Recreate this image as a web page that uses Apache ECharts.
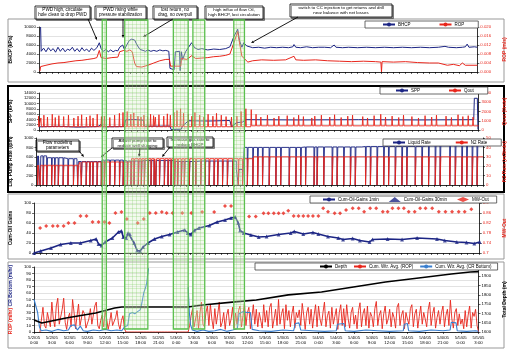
<!DOCTYPE html>
<html>
<head>
<meta charset="utf-8">
<script src="https://cdn.jsdelivr.net/npm/echarts@6/dist/echarts.min.js"></script>
<style>
html,body{margin:0;padding:0;background:#fff}
#main{width:515px;height:354px}
</style>
</head>
<body>
<div id="main"></div>
<script>
/* time axis: hours from 5/2/05 0:00, a label every 3 h */
var timeLabels = [
  '5/2/05\n0:00','5/2/05\n3:00','5/2/05\n6:00','5/2/05\n9:00','5/2/05\n12:00','5/2/05\n15:00','5/2/05\n18:00','5/2/05\n21:00',
  '5/3/05\n0:00','5/3/05\n3:00','5/3/05\n6:00','5/3/05\n9:00','5/3/05\n12:00','5/3/05\n15:00','5/3/05\n18:00','5/3/05\n21:00',
  '5/4/05\n0:00','5/4/05\n3:00','5/4/05\n6:00','5/4/05\n9:00','5/4/05\n12:00','5/4/05\n15:00','5/4/05\n18:00','5/4/05\n21:00',
  '5/5/05\n0:00','5/5/05\n3:00'
];
// green event windows [from, to] in hours
var bands = [[11.5,12.2],[15.3,19.2],[23.5,26.0],[26.8,28.8],[33.7,35.5]];

/* panel 1: BHCP (kPa) and ROP (m/s) */
var bhcp = [[2.1,10000],[2.2,4600],[2.6,5300],[3.0,4500],[3.4,5400],[3.8,4700],[4.2,5200],[4.6,4400],[5.0,5500],[5.4,4600],[5.8,5300],[6.2,4500],[6.6,5100],[7.0,4800],[7.4,5500],[7.8,4600],[8.2,5200],[8.6,4500],[9.0,5400],[9.4,4700],[9.8,5100],[10.2,4500],[10.6,5300],[11.0,4800],[11.5,5400],[11.9,6500],[12.2,5200],[12.6,4600],[13.0,5000],[13.4,4500],[13.8,4900],[14.2,4500],[14.6,4800],[15.0,4700],[15.3,5500],[15.8,6000],[16.1,5000],[16.4,5800],[16.9,7000],[17.3,7300],[17.8,7100],[18.2,6000],[18.7,5000],[19.2,4800],[19.6,4600],[20.0,4900],[20.5,4600],[21.0,4800],[21.5,4600],[22.0,4900],[22.5,4700],[23.0,4800],[23.5,4600],[23.7,800],[24.4,500],[24.6,4500],[25.3,4600],[25.4,300],[25.6,4500],[25.8,2800],[26.3,4500],[26.8,5500],[27.3,6500],[27.8,5400],[28.4,5000],[29.0,5200],[30.0,4900],[31.0,5100],[32.0,5000],[33.0,5200],[33.7,5600],[34.4,8000],[35.0,9500],[35.3,7000],[35.7,5500],[36.0,6500],[36.5,5800],[37.5,5400],[38.5,5500],[39.5,5300],[40.5,5500],[41.5,5400],[42.5,5500],[43.5,5400],[44.2,5600],[44.4,6100],[44.7,5500],[45.5,5400],[46.5,5600],[47.5,5400],[48.5,5500],[49.5,5500],[50.5,5400],[51.1,6000],[51.4,5500],[52.5,5400],[53.5,5500],[55.0,5400],[56.5,5500],[58.0,5400],[59.5,5500],[61.0,5400],[62.5,5500],[64.0,5400],[65.5,5500],[67.0,5400],[68.5,5500],[69.6,5700],[69.9,6100],[70.2,5500],[71.5,5400],[72.5,5500],[73.0,5600],[73.3,6200],[73.6,5500],[74.5,5600],[75.0,5500]];
var rop1 = [[2.0,0.0004],[2.1,0.0024],[3.0,0.003],[4.0,0.0036],[5.0,0.004],[6.0,0.0042],[7.0,0.0046],[8.0,0.005],[9.0,0.0052],[10.0,0.0056],[11.0,0.006],[11.5,0.0064],[11.9,0.0096],[12.2,0.0064],[13.0,0.006],[14.0,0.0064],[15.0,0.0066],[15.3,0.009],[16.0,0.0096],[16.5,0.0092],[17.0,0.0098],[17.4,0.009],[17.8,0.004],[18.1,0.0024],[19.0,0.0022],[20.0,0.003],[21.0,0.004],[22.0,0.005],[23.0,0.0056],[23.6,0.0056],[23.8,0.0026],[25.5,0.0026],[25.6,0.006],[26.5,0.0056],[27.3,0.0072],[28.0,0.006],[29.0,0.0062],[30.0,0.0064],[31.0,0.0068],[32.0,0.007],[33.0,0.0074],[33.7,0.008],[34.5,0.014],[35.0,0.018],[35.3,0.013],[35.7,0.007],[36.7,0.0044],[37.5,0.005],[39,0.0054],[41,0.0052],[43,0.0054],[44.4,0.007],[44.7,0.0054],[46,0.0052],[48,0.0054],[50,0.005],[52,0.0048],[54,0.0046],[56,0.0048],[58,0.0046],[58.9,0.0044],[59.0,0.0],[59.1,0.0046],[61,0.0044],[63,0.0046],[65,0.0042],[67,0.004],[68.5,0.004],[70,0.003],[71,0.0034],[72,0.0028],[72.5,0.004],[73,0.003],[75,0.003]];

/* pipe connections (hours): pumps stop, returns surge */
var connT = [1.5,1.9,2.4,3.0,3.8,4.3,4.9,5.7,6.5,7.4,8.1,8.7,9.5,10.1,10.6,11.3,12.0,12.5,13.4,14.2,15.0,15.6,16.3,16.9,17.4,18.1,18.6,19.1,19.7,20.2,20.7,21.0,21.6,22.4,23.0,23.5,24.1,24.6,25.2,25.7,26.5,27.1,27.6,28.4,29.1,29.8,30.6,31.2,32.0,32.8,33.7,34.6,35.3,36.1,37.0,37.8,38.6,39.7,40.8,41.6,43.0,44.1,44.9,45.7,47.1,47.6,48.7,50.1,50.9,52.0,53.1,53.9,55.6,56.4,57.5,58.6,59.4,60.5,61.6,62.4,63.8,64.9,66.0,67.1,67.9,69.5,70.4,71.5,72.3,73.2,74.0];

/* panel 2: SPP (kPa) and Qout (l/min) */
var spp = [[1.6,1200],[5,1400],[8,1100],[11.5,1300],[12,2000],[12.3,1200],[15.9,1300],[16.1,3800],[17.5,4000],[19.1,3700],[19.3,1400],[23.5,1500],[23.7,200],[25.4,300],[25.6,1500],[26.6,3500],[30,3400],[33.5,3600],[33.8,1200],[34.6,2800],[35.6,3000],[36.2,3900],[45,3800],[55,3900],[65,3800],[74.2,3900],[74.3,12000],[74.8,12000],[74.9,200]];
var qoutBase = [[1.5,350],[37,450],[75,450]];
var qoutPeak = [1500,1300,1600,1400,1700,1350,1550,1450,1600,1300,1500,1650,1400,1550,1300,1700,1450,1500,1350,1600,
  1800,1900,2000,1700,1850,1500,1400,1600,1450,1700,1550,1400,1650,1500,1750,1600,1900,2100,2300,1800,
  1700,1500,1900,1600,1400,1700,1500,1800,1600,1450,1400,1500,2000,2300,2200,1700,
  1400,1600,1300,1500,1550,1350,1600,1450,1300,1500,1600,1400,1650,1350,1500,1600,1450,1300,1550,1700,1400,1500,1350,1600,1450,1300,1550,1400,1600,1500,1350,1650,1450,1550,1400];

/* panel 3: liquid pump rate (lpm) and N2 rate, levels between connections */
var liqLevel = [[1.5,620],[3,580],[6,560],[8,500],[12,530],[16,510],[19,520],[24,500],[28,510],[34.3,330],[35.6,800],[45,810],[55,820],[65,830],[75,840]];
var n2Level = [[1.5,21],[8.5,24.5],[17,28],[37,30],[75,30]];

/* panel 4: cumulative oil gains and MW out */
var cumOil = [[1.0,0],[2.1,4],[3.8,10],[5.4,17],[7.1,20],[8.7,20],[10.4,25],[11.3,28],[11.7,18],[12.2,15],[12.8,22],[14.0,30],[15.0,42],[15.5,44],[15.8,32],[16.3,30],[16.6,40],[16.9,38],[17.6,20],[18.1,5],[18.6,4],[19.1,12],[19.9,20],[21.0,28],[22.2,33],[23.5,37],[24.8,42],[26.0,46],[26.5,40],[27.0,37],[27.6,45],[28.4,50],[30.1,55],[31.4,62],[32.7,66],[33.7,70],[34.4,72],[34.9,60],[35.2,45],[35.8,40],[37.0,36],[38.3,32],[39.6,33],[41.6,37],[43.6,40],[44.2,43],[45.7,38],[47.3,41],[48.2,38],[49.8,33],[51.5,30],[52.3,27],[53.9,29],[55.1,25],[56.7,22],[57.2,27],[59.7,28],[62.1,27],[64.6,30],[67.9,28],[69.2,25],[71.2,22],[72.8,21],[74.1,19],[75,22]];
var mwOut = [[2.0,0.80],[3.0,0.808],[4.1,0.808],[4.9,0.808],[5.9,0.808],[6.7,0.82],[7.7,0.82],[8.7,0.848],[9.7,0.848],[10.7,0.824],[11.7,0.824],[12.7,0.824],[13.5,0.82],[14.5,0.86],[15.5,0.864],[16.4,0.836],[18.2,0.82],[19.2,0.836],[20.2,0.86],[21.2,0.86],[22.2,0.864],[23.0,0.86],[24.0,0.86],[25.6,0.86],[27.1,0.86],[28.9,0.864],[30.9,0.864],[32.7,0.888],[33.7,0.888],[36.7,0.846],[37.8,0.846],[39.1,0.859],[39.9,0.859],[40.8,0.859],[41.6,0.859],[42.4,0.859],[43.2,0.869],[44.1,0.848],[44.9,0.848],[45.7,0.848],[46.5,0.848],[47.3,0.848],[48.2,0.848],[49.0,0.879],[49.8,0.865],[50.9,0.859],[51.8,0.859],[52.8,0.872],[53.9,0.879],[54.9,0.879],[55.8,0.865],[56.8,0.879],[57.8,0.879],[58.9,0.865],[59.7,0.865],[60.5,0.879],[61.5,0.879],[62.4,0.879],[63.2,0.865],[64.2,0.865],[65.1,0.879],[66.0,0.879],[67.1,0.879],[68.2,0.865],[69.3,0.865],[70.4,0.865],[71.5,0.865],[72.5,0.865],[73.6,0.875]];

/* panel 5: ROP every 0.25 h from 1.0 h, CR bottom, depth */
var ropStart = 1.0, ropStep = 0.25;
var rop5 = [0,20,38,10,6,30,33,8,46,20,8,40,52,12,10,35,52,15,4,22,29,8,50,30,5,25,43,10,12,33,
  28,6,3,20,36,12,15,40,46,10,5,18,26,8,33,20,4,15,30,10,8,22,33,12,4,18,25,5,
  0,0,0,0,0,0,0,0,0,0,0,0,0,0,0,0,0,0,0,0,0,0,0,0,0,0,0,0,0,0,0,0,0,0,0,0,0,0,0,0,0,0,0,
  10,25,36,8,20,33,5,30,46,12, 8,30,40,10,43,20,5,36,12,28, 46,8,15,30,4,26,35,10,20,38,
  6,29,12,33,40,8,25,45,10,30, 38,5,22,42,12,35,8,30,28,6, 42,15,33,8,38,44,6,20,35,10,
  50,12,28,36,5,42,18,33,8,28, 40,6,30,22,34,10,44,26,4,30, 38,12,35,6,26,42,8,40,20,10,
  30,46,8,25,32,6,38,12,24,36, 4,30,42,10,36,8,42,20,6,30, 38,12,26,5,33,45,8,28,36,10,
  40,6,30,24,8,36,47,10,26,33, 5,28,40,12,20,35,8,30,22,6, 38,44,10,26,33,5,30,20,12,36,
  42,8,28,35,6,24,40,12,30,20, 8,34,46,10,28,38,6,22,33,12, 30,40,8,26,35,10,49,20,6,30,
  36,10,28,12,20,5,33,8,26,40, 6,30,24,35,10,0];
var crBottom = [[0,50],[0.3,48],[0.6,30],[0.9,8],[1.2,2],[2,3],[3,1],[4,4],[5,2],[5.8,3],[6.2,10],[6.8,11],[7.3,3],[7.8,9],[8.3,2],[9,1],[10,3],[11,2],[12,4],[13,2],[14,3],[14.8,2],[15.3,8],[15.8,10],[16.1,28],[16.6,30],[17.0,28],[17.4,31],[17.9,34],[18.2,45],[18.5,60],[18.8,68],[19.0,75],[19.3,98],[19.4,null],[26.0,69],[26.2,30],[26.4,11],[26.7,3],[27.5,1],[28.5,3],[29.5,1],[30.5,2],[31.5,4],[32.5,1],[33.5,3],[34.3,5],[34.6,28],[35.2,31],[36.0,30],[36.5,30],[36.8,4],[38,2],[40,1],[42,3],[43.8,2],[44.1,13],[44.7,14],[45,3],[47,2],[49,1],[51,2],[51.2,12],[52.3,13],[52.5,2],[54,1],[56,3],[58,2],[60,1],[62.3,2],[62.5,12],[63,13],[63.2,2],[65,1],[67,3],[69,2],[70.2,3],[70.4,15],[71.2,14],[71.4,2],[73,1],[74.5,2],[75,1]];
var depth = [[0,1665],[1.3,1648],[5.4,1675],[10.4,1702],[13.6,1729],[14.8,1735],[26,1735],[28.4,1745],[33.9,1762],[37.5,1772],[42.9,1800],[48.5,1815],[53.9,1842],[59.3,1869],[64.9,1891],[70.4,1912],[73.6,1923],[75,1925]];

var FONT = 'Liberation Sans';
var RED = '#e8261c', NAVY = '#1c2584', BLUE2 = '#3a7fcf';

function levelAt(levels, t) {
  var v = levels[0][1];
  for (var i = 0; i < levels.length; i++) { if (levels[i][0] <= t) v = levels[i][1]; }
  return v;
}
// level line, with a short excursion at every connection
function connSeries(levels, spike) {
  var marks = [];
  levels.forEach(function(p){ marks.push({t: p[0], lv: true}); });
  connT.forEach(function(t, i){ marks.push({t: t, i: i}); });
  marks.sort(function(a, b){ return a.t - b.t; });
  var out = [], prev = null;
  marks.forEach(function(m){
    var v = levelAt(levels, m.t);
    if (m.lv) {
      if (prev !== null) out.push([m.t, prev]);
      out.push([m.t, v]);
    } else {
      spike(out, m.t, v, m.i);
    }
    prev = v;
  });
  return out;
}
function dropToZero(out, t, v) { out.push([t, v], [t + 0.02, 0], [t + 0.12, 0], [t + 0.14, v]); }
function surge(out, t, v, i) { out.push([t, v], [t + 0.08, qoutPeak[i] || v], [t + 0.16, v]); }

var rop5Data = rop5.map(function(v, i){ return [ropStart + i * ropStep, v]; });

var grids = [
  {left: 38, right: 32, top: 27, height: 45},
  {left: 37, right: 32, top: 93, height: 37},
  {left: 35, right: 32, top: 138, height: 47},
  {left: 33, right: 32, top: 203, height: 50},
  {left: 27, right: 32, top: 267, height: 65}
];
var xMins = [1.81, 1.64, 1.32, 0.99, 0];

var xAxes = grids.map(function(g, i){
  var ax = {
    type: 'value', gridIndex: i, min: xMins[i], max: 75,
    splitLine: {show: false},
    axisLine: {onZero: false, lineStyle: {color: '#000', width: 0.8}},
    axisTick: {length: 2, lineStyle: {color: '#000', width: 0.6}},
    axisLabel: {show: false}
  };
  if (i < 4) {
    ax.splitNumber = 75;
  } else {
    ax.interval = 3;
    ax.axisLabel = {
      show: true, fontSize: 4.3, fontFamily: FONT, color: '#000', lineHeight: 5, margin: 3,
      formatter: function(v){ return timeLabels[Math.round(v / 3)] || ''; }
    };
  }
  return ax;
});

function plain(v) { return String(v); }

function yAx(grid, min, max, interval, name, right, color, fmt) {
  return {
    type: 'value', gridIndex: grid, min: min, max: max, interval: interval,
    position: right ? 'right' : 'left',
    name: name, nameLocation: 'middle', nameGap: right ? 14 : 19,
    nameTextStyle: {fontSize: 5, fontWeight: 'bold', color: color, fontFamily: FONT},
    axisLine: {show: true, lineStyle: {color: '#000', width: 0.8}},
    axisTick: {show: true, length: 2, lineStyle: {color: '#000', width: 0.6}},
    axisLabel: {fontSize: 4.3, color: color, fontFamily: FONT, margin: 3, formatter: fmt || plain},
    splitLine: {show: !right, lineStyle: {color: '#cfcfcf', width: 0.6}}
  };
}

var yAxes = [
  yAx(0, 0, 10000, 2000, 'BHCP (kPa)', false, '#000'),
  yAx(0, 0, 0.02, 0.004, 'ROP (m/s)', true, RED, function(v){ return v.toFixed(3); }),
  yAx(1, 0, 14000, 2000, 'SPP (kPa)', false, '#000'),
  yAx(1, 0, 4000, 1000, 'Qout (l/min)', true, RED),
  yAx(2, 0, 1000, 200, 'Liq. Pump Rate (lpm)', false, '#000'),
  yAx(2, 0, 50, 10, 'N2 Rate (m3/min)', true, RED),
  yAx(3, 0, 100, 20, 'Cum-Oil Gains', false, '#000'),
  yAx(3, 0.7, 0.9, 0.04, 'MW-Out', true, RED, function(v){ return String(+v.toFixed(2)); }),
  yAx(4, 0, 100, 10, '{r|ROP (m/hr)} {b|CR Bottom (m/hr)}', false, '#000'),
  yAx(4, 1600, 1950, 50, 'Total Depth (m)', true, '#000')
];
yAxes[8].nameTextStyle.rich = {
  r: {color: RED, fontSize: 5, fontWeight: 'bold', fontFamily: FONT},
  b: {color: NAVY, fontSize: 5, fontWeight: 'bold', fontFamily: FONT}
};

function line(name, x, y, data, color, width) {
  return {
    name: name, type: 'line', xAxisIndex: x, yAxisIndex: y, data: data,
    showSymbol: false, symbol: 'none', lineStyle: {color: color, width: width || 1}, itemStyle: {color: color}
  };
}

function legend(names, left, top, pad, gap) {
  return {
    data: names, left: left, top: top, orient: 'horizontal',
    padding: pad, itemGap: gap, itemWidth: 12, itemHeight: 5,
    borderColor: '#444', borderWidth: 0.8, backgroundColor: '#fff',
    textStyle: {fontSize: 4.5, fontFamily: FONT, color: '#000', padding: [0, 0, 0, -2]}
  };
}

var series = [
  line('BHCP', 0, 0, bhcp, NAVY, 1),
  line('ROP', 0, 1, rop1, RED, 1),
  line('SPP', 1, 2, spp, NAVY, 1),
  line('Qout', 1, 3, connSeries(qoutBase, surge), RED, 0.9),
  line('Liquid Rate', 2, 4, connSeries(liqLevel, dropToZero), NAVY, 0.9),
  line('N2 Rate', 2, 5, connSeries(n2Level, dropToZero), RED, 0.9),
  line('Cum-Oil-Gains 1min', 3, 6, cumOil, NAVY, 1.6),
  {name: 'Cum-Oil-Gains 30min', type: 'scatter', xAxisIndex: 3, yAxisIndex: 6, data: cumOil,
    symbol: 'triangle', symbolSize: 3.8, itemStyle: {color: NAVY}},
  {name: 'MW-Out', type: 'scatter', xAxisIndex: 3, yAxisIndex: 7, data: mwOut,
    symbol: 'diamond', symbolSize: 4, itemStyle: {color: RED}},
  line('Depth', 4, 9, depth, '#000', 1.6),
  line('Cum. Wtr. Avg. (ROP)', 4, 8, rop5Data, RED, 0.9),
  line('Cum. Wtr. Avg. (CR Bottom)', 4, 8, crBottom, BLUE2, 1.1)
];
series[9].z = 4;

var chart = echarts.init(document.getElementById('main'), null, {renderer: 'canvas'});
chart.setOption({
  animation: false,
  backgroundColor: '#fff',
  textStyle: {fontFamily: FONT},
  grid: grids,
  xAxis: xAxes,
  yAxis: yAxes,
  legend: [
    legend(['BHCP', 'ROP'], 365, 21, [1, 14, 1, 17], 28),
    legend(['SPP', 'Qout'], 380, 87, [1, 14, 1, 15], 28),
    legend(['Liquid Rate', 'N2 Rate'], 383, 139, [1, 14, 1, 9], 24),
    legend(['Cum-Oil-Gains 1min', 'Cum-Oil-Gains 30min', 'MW-Out'], 310, 196, [1, 8, 1, 12], 10),
    legend(['Depth', 'Cum. Wtr. Avg. (ROP)', 'Cum. Wtr. Avg. (CR Bottom)'], 255, 263, [1, 6, 1, 64], 6)
  ],
  series: series
});

/* frames, event windows and annotations */
function frame(x, y, w, h, color, lw) {
  return {type: 'rect', z: 0, shape: {x: x, y: y, width: w, height: h},
    style: {fill: 'none', stroke: color, lineWidth: lw}};
}
function note(x, y, w, h, text, fs) {
  return {type: 'group', z: 20, children: [
    {type: 'rect', shape: {x: x, y: y, width: w, height: h},
      style: {fill: '#fff', stroke: '#000', lineWidth: 0.8, shadowColor: 'rgba(0,0,0,0.45)', shadowOffsetX: 1.5, shadowOffsetY: 1.5}},
    {type: 'text', style: {text: text, x: x + w / 2, y: y + h / 2, align: 'center', verticalAlign: 'middle',
      fontSize: fs || 4.6, fontFamily: FONT, fill: '#000', lineHeight: 5.4}}
  ]};
}
function arrow(x1, y1, x2, y2) {
  var a = Math.atan2(y2 - y1, x2 - x1), L = 3, W = 1.3;
  var bx = x2 - L * Math.cos(a), by = y2 - L * Math.sin(a);
  return {type: 'group', z: 21, children: [
    {type: 'line', shape: {x1: x1, y1: y1, x2: bx, y2: by}, style: {stroke: '#000', lineWidth: 0.9}},
    {type: 'polygon', shape: {points: [[x2, y2], [bx - W * Math.sin(a), by + W * Math.cos(a)], [bx + W * Math.sin(a), by - W * Math.cos(a)]]},
      style: {fill: '#000'}}
  ]};
}

// light green grid texture of the event windows
var pat = document.createElement('canvas');
pat.width = 4; pat.height = 4;
var pc = pat.getContext('2d');
pc.fillStyle = 'rgba(214,240,200,0.30)'; pc.fillRect(0, 0, 4, 4);
pc.fillStyle = 'rgba(130,205,100,0.28)'; pc.fillRect(0, 0, 4, 1); pc.fillRect(0, 0, 1, 4);

var gfx = [
  frame(8, 19, 496, 63, '#999', 1),
  frame(8, 86, 496, 106, '#000', 2),
  frame(8, 194, 496, 65, '#999', 1),
  frame(8, 262, 496, 86, '#999', 1)
];
bands.forEach(function(b){
  var x1 = chart.convertToPixel({xAxisIndex: 4}, b[0]);
  var x2 = chart.convertToPixel({xAxisIndex: 4}, b[1]);
  gfx.push({type: 'rect', z: 10, shape: {x: x1, y: 20, width: x2 - x1, height: 309},
    style: {fill: {image: pat, repeat: 'repeat'}, stroke: '#5cc04e', lineWidth: 1.3}});
});
gfx.push(
  note(35, 6, 55, 13, 'PWD high, circulate\nhole clean to drop PWD'),
  note(95, 6, 51, 13, 'PWD rising while\npressure stabilization'),
  note(153, 6, 44, 13, 'lost return, no\ndrag, no overpull'),
  note(205, 6, 58, 13, 'high influx of flow Oil,\nhigh BHCP, lost circulation', 4.4),
  note(290, 4, 102, 13, 'switch to CC injection to get returns and drill\nnear balance with net losses', 4.4),
  note(36, 140, 43, 11, 'Flow modeling\nparameters'),
  note(112, 138, 51, 10, 'Adjust pump rate to\nreduce well slugging', 4.4),
  note(167, 137, 46, 10, 'Increase gas rate to\nreduce BHCP', 4.4),
  arrow(88, 19, 97, 40),
  arrow(123, 19, 123, 38),
  arrow(173, 19, 143, 37),
  arrow(298, 17, 251, 43),
  arrow(79, 151, 84, 157),
  arrow(112, 148, 101, 157),
  arrow(140, 148, 139, 157),
  arrow(170, 147, 162, 157)
);
chart.setOption({graphic: gfx});
</script>
</body>
</html>
